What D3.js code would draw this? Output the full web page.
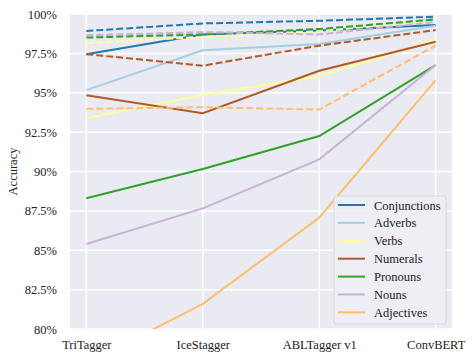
<!DOCTYPE html>
<html>
<head>
<meta charset="utf-8">
<script src="https://cdn.jsdelivr.net/npm/d3@7.9.0/dist/d3.min.js"></script>
<style>
  body { margin: 0; background: #fff; }
  svg { display: block; font-family: "Liberation Serif", "Times New Roman", serif; }
</style>
</head>
<body>
<svg id="chart" width="474" height="362"></svg>
<script>
// models on the x axis
const models = ['TriTagger', 'IceStagger', 'ABLTagger v1', 'ConvBERT'];
const categories = ['Conjunctions', 'Adverbs', 'Verbs', 'Numerals', 'Pronouns', 'Nouns', 'Adjectives'];
const colors = ['#1f78b4', '#a6cee3', '#ffff99', '#b15928', '#33a02c', '#cab2d6', '#fdbf6f'];

// solid lines (accuracy, %)
const solidValues = [
  [97.45, 98.7, 98.95, 99.3],
  [95.17, 97.7, 98.1, 99.25],
  [93.4, 94.86, 96.05, 98.35],
  [94.84, 93.7, 96.4, 98.24],
  [88.3, 90.16, 92.25, 96.76],
  [85.4, 87.66, 90.77, 96.76],
  [77.8, 81.6, 87.07, 95.8]
];

// dashed lines (accuracy, %)
const dashedValues = [
  [98.92, 99.4, 99.57, 99.83],
  [98.6, 98.8, 98.9, 99.7],
  [98.15, 98.55, 98.9, 99.6],
  [97.45, 96.72, 97.99, 98.98],
  [98.5, 98.7, 99.05, 99.65],
  [98.65, 98.85, 98.7, 99.5],
  [93.98, 94.08, 93.93, 98.0]
];

const yTicks = [80, 82.5, 85, 87.5, 90, 92.5, 95, 97.5, 100];

const svg = d3.select('#chart');
const margin = { top: 14, right: 22, bottom: 33, left: 70 };
const width = 474 - margin.left - margin.right;
const height = 362 - margin.top - margin.bottom;

const g = svg.append('g').attr('transform', `translate(${margin.left},${margin.top})`);

const x = d3.scalePoint().domain(models).range([0, width]).padding(0.14);
const y = d3.scaleLinear().domain([80, 100]).range([height, 0]);

g.append('rect')
  .attr('width', width)
  .attr('height', height)
  .attr('fill', '#eaeaf2');

g.append('clipPath').attr('id', 'clip')
  .append('rect').attr('width', width).attr('height', height);

// grid
g.append('g')
  .selectAll('line.h')
  .data(yTicks)
  .join('line')
  .attr('x1', 0).attr('x2', width)
  .attr('y1', d => y(d)).attr('y2', d => y(d))
  .attr('stroke', '#fff').attr('stroke-width', 1.5);

g.append('g')
  .selectAll('line.v')
  .data(models)
  .join('line')
  .attr('x1', d => x(d)).attr('x2', d => x(d))
  .attr('y1', 0).attr('y2', height)
  .attr('stroke', '#fff').attr('stroke-width', 1.5);

// axes
const yAxis = g.append('g')
  .call(d3.axisLeft(y).tickValues(yTicks).tickSize(0).tickPadding(13)
    .tickFormat(d => d + '%'));
const xAxis = g.append('g')
  .attr('transform', `translate(0,${height})`)
  .call(d3.axisBottom(x).tickSize(0).tickPadding(11));

[yAxis, xAxis].forEach(a => {
  a.select('.domain').remove();
  a.selectAll('text')
    .attr('fill', '#222')
    .style('font-size', '12.5px')
    .style('font-family', '"Liberation Serif", "Times New Roman", serif');
});

svg.append('text')
  .attr('transform', `translate(17,${margin.top + height / 2}) rotate(-90)`)
  .attr('text-anchor', 'middle')
  .attr('fill', '#222')
  .style('font-size', '12.5px')
  .text('Accuracy');

const line = d3.line()
  .x((d, i) => x(models[i]))
  .y(d => y(d));

const lines = g.append('g').attr('clip-path', 'url(#clip)');

lines.selectAll('path.solid')
  .data(solidValues)
  .join('path')
  .attr('class', 'solid')
  .attr('d', line)
  .attr('fill', 'none')
  .attr('stroke', (d, i) => colors[i])
  .attr('stroke-width', 2);

lines.selectAll('path.dashed')
  .data(dashedValues)
  .join('path')
  .attr('class', 'dashed')
  .attr('d', line)
  .attr('fill', 'none')
  .attr('stroke', (d, i) => colors[i])
  .attr('stroke-width', 2)
  .attr('stroke-dasharray', '7,3');

// legend
const legend = svg.append('g').attr('transform', 'translate(334,196)');
legend.append('rect')
  .attr('width', 112).attr('height', 128)
  .attr('rx', 3)
  .attr('fill', '#eeeef4').attr('fill-opacity', 0.9)
  .attr('stroke', '#d6d6dc');

const item = legend.selectAll('g.item')
  .data(categories)
  .join('g')
  .attr('transform', (d, i) => `translate(0,${9 + i * 17.9})`);

item.append('line')
  .attr('x1', 4).attr('x2', 31)
  .attr('stroke', (d, i) => colors[i])
  .attr('stroke-width', 2);

item.append('text')
  .attr('x', 40).attr('y', 4.5)
  .attr('fill', '#222')
  .style('font-size', '12.5px')
  .text(d => d);
</script>
</body>
</html>
